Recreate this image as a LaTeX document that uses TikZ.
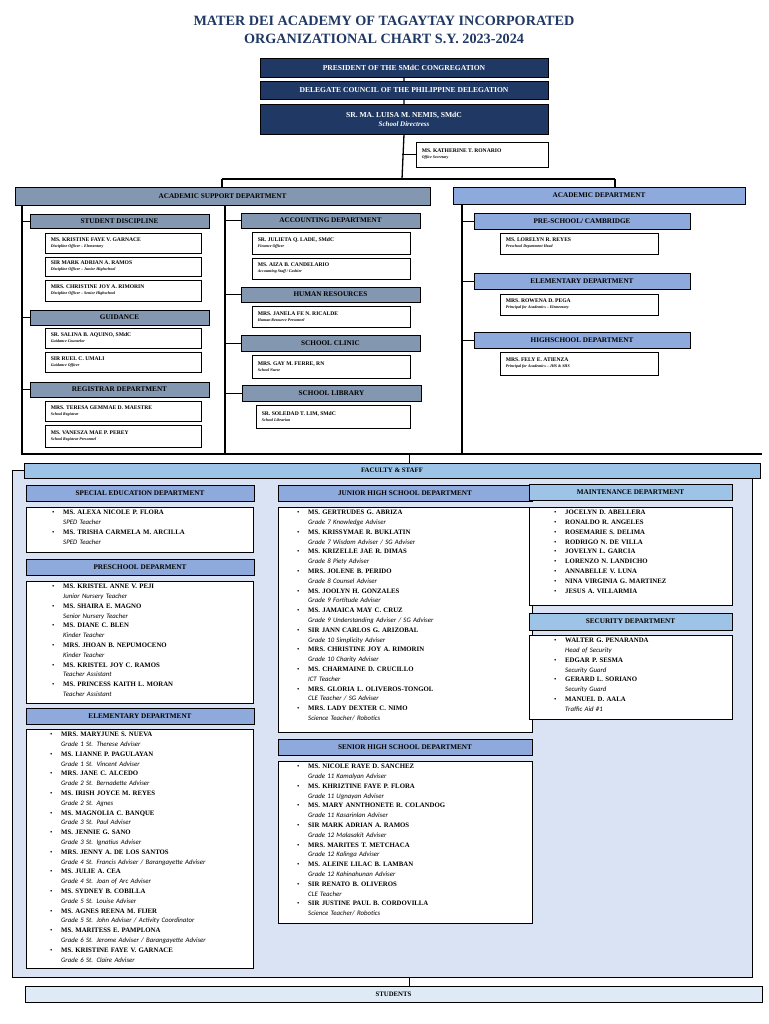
\documentclass[tikz,border=0pt]{standalone}
\usepackage{fontspec}
\setmainfont{Liberation Serif}
\newfontfamily\carl{Carlito}
\definecolor{navy}{HTML}{1F3864}
\definecolor{sgray}{HTML}{8497B0}
\definecolor{acad}{HTML}{8EA9DB}
\definecolor{fhead}{HTML}{9DC3E6}
\definecolor{panel}{HTML}{DAE3F3}
\definecolor{stud}{HTML}{DEEBF7}
\newcommand\bx[7]{\node[#6,minimum width={(#4-#2)*1pt},minimum height={(#5-#3)*1pt}] (#1) at ({(#2+#4)/2},{(#3+#5)/2}) {#7};}
\newcommand\sbx[7]{\bx{#1}{#2}{#3}{#4}{#5}{staff}{}\node[anchor=west,align=left,inner sep=0pt,font=\fontsize{5.6}{7}\selectfont] (#1t) at ([xshift=6pt]#1.west) {\textbf{#6}\\[-1pt]{\fontsize{4}{5}\selectfont\itshape\bfseries #7}};}
\newcommand\lst[7]{\bx{#1}{#2}{#3}{#4}{#5}{staff}{}\node[anchor=north west,align=left,text width=240pt,inner sep=0pt,font=\fontsize{6.8}{9.8}\selectfont] (#1t) at ({#2+#6},{#3+3}) {#7};}
\newcommand\pe[2]{\makebox[11pt][l]{\textbullet}\textbf{#1}\\\hspace*{11pt}{\carl\itshape #2}\\}
\newcommand\pmn[1]{\makebox[11pt][l]{\textbullet}\textbf{#1}\\}
\begin{document}
\begin{tikzpicture}[x=1pt,y=-1pt,inner sep=0pt,
  navybox/.style={draw=black,fill=navy,text=white,font=\bfseries\fontsize{7.6}{9}\selectfont,align=center},
  staff/.style={draw=black,fill=white,line width=0.8pt},
  sup/.style={draw=black,fill=sgray,line width=0.8pt,font=\bfseries\fontsize{7.2}{8}\selectfont},
  ac/.style={draw=black,fill=acad,line width=0.8pt,font=\bfseries\fontsize{7.2}{8}\selectfont},
  fh/.style={draw=black,fill=fhead,line width=0.8pt,font=\bfseries\fontsize{7.2}{8}\selectfont},
  ln/.style={line width=1.3pt},
  tk/.style={line width=0.9pt}]
\useasboundingbox (0,0) rectangle (768,1024);
\node[text=navy,font=\bfseries\fontsize{14.2}{18}\selectfont,align=center] (title) at (384,30) {MATER DEI ACADEMY OF TAGAYTAY INCORPORATED\\ORGANIZATIONAL CHART S.Y. 2023-2024};
% top
\bx{pres}{260}{58}{548}{77}{navybox}{PRESIDENT OF THE SMdC CONGREGATION}
\bx{del}{260}{81}{548}{99}{navybox}{DELEGATE COUNCIL OF THE PHILIPPINE DELEGATION}
\bx{sis}{260}{104}{548}{134}{navybox}{SR. MA. LUISA M. NEMIS, SMdC\\{\itshape\fontsize{7}{8}\selectfont School Directress}}
\sbx{sec}{416}{142}{548}{167}{MS. KATHERINE T. RONARIO}{Office Secretary}
\coordinate (j1) at (402,179);
\coordinate (jl) at (222,179);
\coordinate (jr) at (615,179);
\draw[ln] (pres.south) -- (del.north) (del.south) -- (sis.north) (sis.south) -- (j1);
\draw[ln] (sec.west) -- (sec.west -| j1);
\draw[ln] (jl) -- (jr);
% departments
\bx{asd}{15}{187}{430}{205}{sup}{ACADEMIC SUPPORT DEPARTMENT}
\bx{ad}{453}{187}{745}{204}{ac}{ACADEMIC DEPARTMENT}
\draw[ln] (jl) -- (jl |- asd.north);
\draw[ln] (jr) -- (jr |- ad.north);
\coordinate (b1) at (22,454);
\coordinate (b2) at (225,454);
\coordinate (b3) at (462,454);
\coordinate (b4) at (762,454);
\coordinate (bf) at (409,454);
\draw[ln] (22,205) -- (b1) -- (b4);
\draw[ln] (225,205) -- (b2);
\draw[ln] (462,204) -- (b3);
% support left column
\bx{sd}{30}{214}{209}{228}{sup}{STUDENT DISCIPLINE}
\sbx{s1}{45}{233}{201}{253}{MS. KRISTINE FAYE V. GARNACE}{Discipline Officer – Elementary}
\sbx{s2}{45}{257}{201}{276}{SIR MARK ADRIAN A. RAMOS}{Discipline Officer – Junior Highschool}
\sbx{s3}{45}{280}{201}{301}{MRS. CHRISTINE JOY A. RIMORIN}{Discipline Officer – Senior Highschool}
\bx{gd}{30}{310}{209}{325}{sup}{GUIDANCE}
\sbx{g1}{45}{328}{201}{348}{SR. SALINA B. AQUINO, SMdC}{Guidance Counselor}
\sbx{g2}{45}{352}{201}{372}{SIR RUEL C. UMALI}{Guidance Officer}
\bx{rg}{30}{382}{209}{397}{sup}{REGISTRAR DEPARTMENT}
\sbx{r1}{45}{401}{201}{421}{MRS. TERESA GEMMAE D. MAESTRE}{School Registrar}
\sbx{r2}{45}{425}{201}{447}{MS. VANESZA MAE P. PEREY}{School Registrar Personnel}
\foreach \n in {sd,gd,rg} \draw[tk] (\n.west) -- (\n.west -| b1);
% support right column
\bx{acc}{241}{213}{420}{228}{sup}{ACCOUNTING DEPARTMENT}
\sbx{a1}{252}{232}{410}{254}{SR. JULIETA Q. LADE, SMdC}{Finance Officer}
\sbx{a2}{252}{258}{410}{279}{MS. AIZA B. CANDELARIO}{Accounting Staff / Cashier}
\bx{hr}{241}{287}{420}{302}{sup}{HUMAN RESOURCES}
\sbx{h1}{252}{306}{410}{327}{MRS. JANELA FE N. RICALDE}{Human Resource Personnel}
\bx{cl}{241}{335}{420}{351}{sup}{SCHOOL CLINIC}
\sbx{c1}{252}{355}{410}{378}{MRS. GAY M. FERRE, RN}{School Nurse}
\bx{lb}{242}{385}{421}{401}{sup}{SCHOOL LIBRARY}
\sbx{l1}{256}{405}{410}{428}{SR. SOLEDAD T. LIM, SMdC}{School Librarian}
\foreach \n in {acc,hr,cl,lb} \draw[tk] (\n.west) -- (\n.west -| b2);
% academic
\bx{ps}{474}{213}{690}{229}{ac}{PRE-SCHOOL/ CAMBRIDGE}
\sbx{p1}{500}{233}{658}{254}{MS. LORELYN R. REYES}{Preschool Department Head}
\bx{el}{474}{273}{690}{289}{ac}{ELEMENTARY DEPARTMENT}
\sbx{e1}{500}{294}{658}{315}{MRS. ROWENA D. PEGA}{Principal for Academics – Elementary}
\bx{hs}{474}{332}{690}{348}{ac}{HIGHSCHOOL DEPARTMENT}
\sbx{hs1}{500}{352}{658}{375}{MRS. FELY E. ATIENZA}{Principal for Academics – JHS \& SHS}
\foreach \n in {ps,el,hs} \draw[tk] (\n.west) -- (\n.west -| b3);
% faculty
\bx{pan}{12}{470}{752}{977}{draw=black,fill=panel,line width=1pt}{}
\bx{fs}{24}{463}{760}{478}{draw=black,fill=fhead,line width=0.8pt,font=\bfseries\fontsize{6.8}{8}\selectfont}{FACULTY \& STAFF}
\draw[tk] (bf) -- (bf |- fs.north);
\bx{sped}{26}{485}{254}{501}{ac}{SPECIAL EDUCATION DEPARTMENT}
\lst{spl}{26}{507}{253}{552}{26}{\pe{MS. ALEXA NICOLE P. FLORA}{SPED Teacher}\pe{MS. TRISHA CARMELA M. ARCILLA}{SPED Teacher}}
\bx{pre}{26}{559}{254}{575}{ac}{PRESCHOOL DEPARMENT}
\lst{prl}{26}{581}{253}{703}{26}{\pe{MS. KRISTEL ANNE V. PEJI}{Junior Nursery Teacher}\pe{MS. SHAIRA E. MAGNO}{Senior Nursery Teacher}\pe{MS. DIANE C. BLEN}{Kinder Teacher}\pe{MRS. JHOAN B. NEPUMOCENO}{Kinder Teacher}\pe{MS. KRISTEL JOY C. RAMOS}{Teacher Assistant}\pe{MS. PRINCESS KAITH L. MORAN}{Teacher Assistant}}
\bx{ele}{26}{708}{254}{724}{ac}{ELEMENTARY DEPARTMENT}
\lst{ell}{26}{729}{253}{968}{24}{\pe{MRS. MARYJUNE S. NUEVA}{Grade 1 St. Therese Adviser}\pe{MS. LIANNE P. PAGULAYAN}{Grade 1 St. Vincent Adviser}\pe{MRS. JANE C. ALCEDO}{Grade 2 St. Bernadette Adviser}\pe{MS. IRISH JOYCE M. REYES}{Grade 2 St. Agnes}\pe{MS. MAGNOLIA C. BANQUE}{Grade 3 St. Paul Adviser}\pe{MS. JENNIE G. SANO}{Grade 3 St. Ignatius Adviser}\pe{MRS. JENNY A. DE LOS SANTOS}{Grade 4 St. Francis Adviser / Barangayette Adviser}\pe{MS. JULIE A. CEA}{Grade 4 St. Joan of Arc Adviser}\pe{MS. SYDNEY B. COBILLA}{Grade 5 St. Louise Adviser}\pe{MS. AGNES REENA M. FIJER}{Grade 5 St. John Adviser / Activity Coordinator}\pe{MS. MARITESS E. PAMPLONA}{Grade 6 St. Jerome Adviser / Barangayette Adviser}\pe{MS. KRISTINE FAYE V. GARNACE}{Grade 6 St. Claire Adviser}}
\bx{jhs}{278}{485}{532}{501}{ac}{JUNIOR HIGH SCHOOL DEPARTMENT}
\lst{jhl}{278}{507}{532}{732}{19}{\pe{MS. GERTRUDES G. ABRIZA}{Grade 7 Knowledge Adviser}\pe{MS. KRISSYMAE R. BUKLATIN}{Grade 7 Wisdom Adviser / SG Adviser}\pe{MS. KRIZELLE JAE R. DIMAS}{Grade 8 Piety Adviser}\pe{MRS. JOLENE B. PERIDO}{Grade 8 Counsel Adviser}\pe{MS. JOOLYN H. GONZALES}{Grade 9 Fortitude Adviser}\pe{MS. JAMAICA MAY C. CRUZ}{Grade 9 Understanding Adviser / SG Adviser}\pe{SIR JANN CARLOS G. ARIZOBAL}{Grade 10 Simplicity Adviser}\pe{MRS. CHRISTINE JOY A. RIMORIN}{Grade 10 Charity Adviser}\pe{MS. CHARMAINE D. CRUCILLO}{ICT Teacher}\pe{MRS. GLORIA L. OLIVEROS-TONGOL}{CLE Teacher / SG Adviser}\pe{MRS. LADY DEXTER C. NIMO}{Science Teacher/ Robotics}}
\bx{shs}{278}{739}{532}{755}{ac}{SENIOR HIGH SCHOOL DEPARTMENT}
\lst{shl}{278}{761}{532}{923}{19}{\pe{MS. NICOLE RAYE D. SANCHEZ}{Grade 11 Kamalyan Adviser}\pe{MS. KHRIZTINE FAYE P. FLORA}{Grade 11 Ugnayan Adviser}\pe{MS. MARY ANNTHONETE R. COLANDOG}{Grade 11 Kasarinlan Adviser}\pe{SIR MARK ADRIAN A. RAMOS}{Grade 12 Malasakit Adviser}\pe{MRS. MARITES T. METCHACA}{Grade 12 Kalinga Adviser}\pe{MS. ALEINE LILAC B. LAMBAN}{Grade 12 Kahinahunan Adviser}\pe{SIR RENATO B. OLIVEROS}{CLE Teacher}\pe{SIR JUSTINE PAUL B. CORDOVILLA}{Science Teacher/ Robotics}}
\bx{mnt}{529}{484}{732}{500}{fh}{MAINTENANCE DEPARTMENT}
\lst{mnl}{529}{507}{732}{605}{25}{\pmn{JOCELYN D. ABELLERA}\pmn{RONALDO R. ANGELES}\pmn{ROSEMARIE S. DELIMA}\pmn{RODRIGO N. DE VILLA}\pmn{JOVELYN L. GARCIA}\pmn{LORENZO N. LANDICHO}\pmn{ANNABELLE V. LUNA}\pmn{NINA VIRGINIA G. MARTINEZ}\pmn{JESUS A. VILLARMIA}}
\bx{sec2}{529}{613}{732}{630}{fh}{SECURITY DEPARTMENT}
\lst{scl}{529}{635}{732}{719}{25}{\pe{WALTER G. PENARANDA}{Head of Security}\pe{EDGAR P. SESMA}{Security Guard}\pe{GERARD L. SORIANO}{Security Guard}\pe{MANUEL D. AALA}{Traffic Aid \#1}}
% students
\bx{st}{25}{986}{762}{1002}{draw=black,fill=stud,line width=0.8pt,font=\bfseries\fontsize{6.8}{8}\selectfont}{STUDENTS}
\draw[tk] (st.north -| bf) -- (pan.south -| bf);
\end{tikzpicture}
\end{document}
